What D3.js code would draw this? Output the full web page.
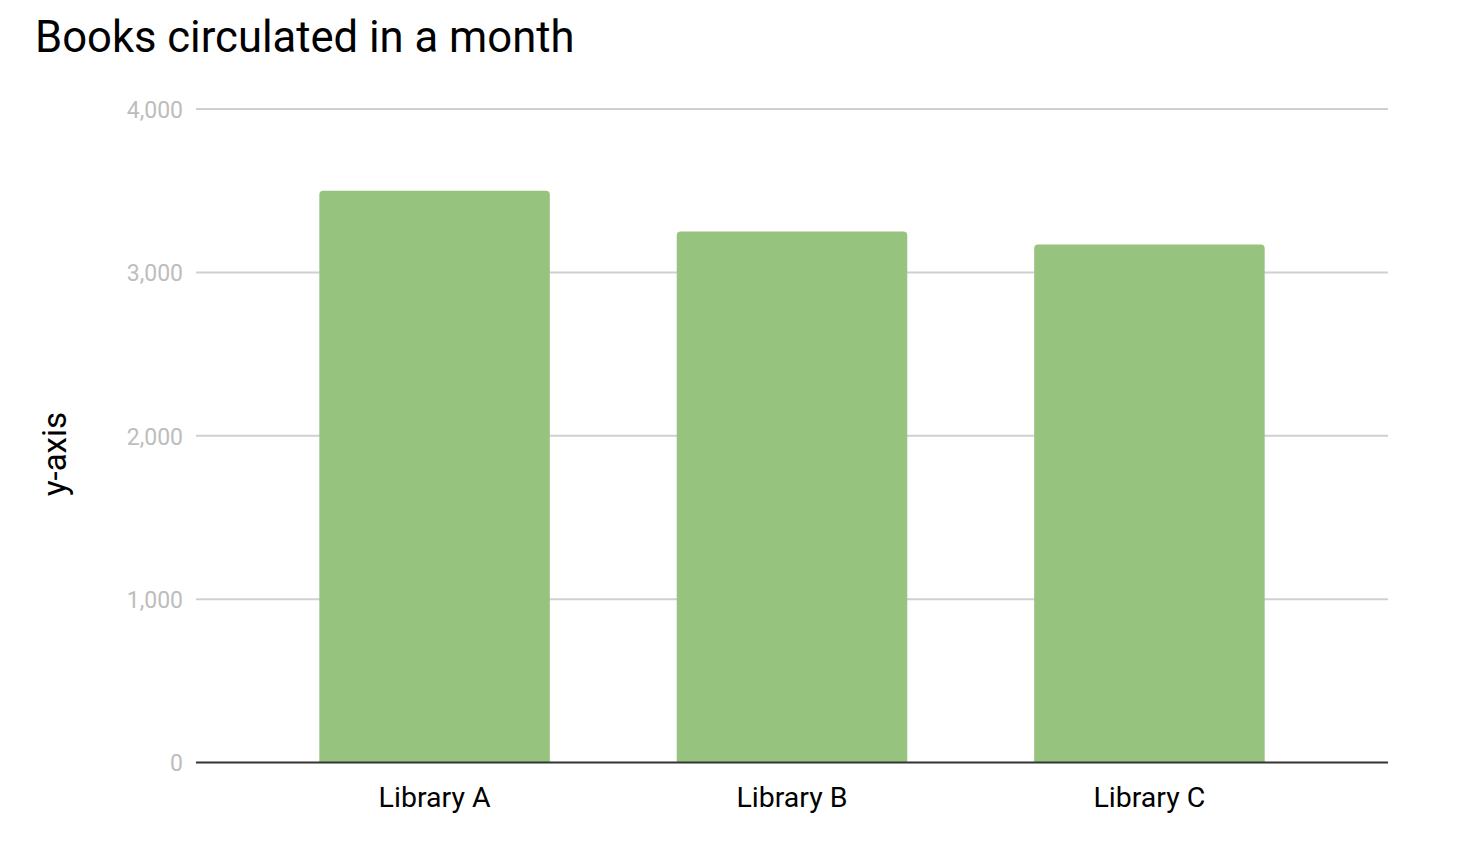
<!DOCTYPE html>
<html>
<head>
<meta charset="utf-8">
<script src="https://cdn.jsdelivr.net/npm/d3@7"></script>
<style>
  html, body { margin: 0; padding: 0; background: #fff; }
  svg { display: block; font-family: Roboto, "Noto Sans", sans-serif; }
</style>
</head>
<body>
<svg id="chart" width="1484" height="854"></svg>
<script>
const title = "Books circulated in a month";
const yAxisLabel = "y-axis";
const categories = ["Library A", "Library B", "Library C"];
const values = [3500, 3250, 3170];
const yTicks = [0, 1000, 2000, 3000, 4000];

const svg = d3.select("#chart");
const plotLeft = 196, plotRight = 1388, plotTop = 109, plotBottom = 762.5;

const x = d3.scaleBand().domain(categories).range([plotLeft, plotRight])
  .paddingInner(0.355).paddingOuter(0.345);
const y = d3.scaleLinear().domain([0, 4000]).range([plotBottom, plotTop]);

svg.append("text").attr("x", 35).attr("y", 52)
  .attr("font-size", 43.6).attr("fill", "#000").text(title);

// gridlines + tick labels
const yAxis = d3.axisLeft(y).tickValues(yTicks).tickFormat(d3.format(",")).tickSize(0).tickPadding(13);
const gy = svg.append("g").attr("transform", `translate(${plotLeft},0)`).call(yAxis);
gy.select(".domain").remove();
gy.selectAll("text").attr("font-size", 23).attr("fill", "#bdbdbd")
  .attr("font-family", "Roboto").attr("dy", "0.36em");

svg.append("g").selectAll("line").data(yTicks.filter(d => d !== 0)).join("line")
  .attr("x1", plotLeft).attr("x2", plotRight)
  .attr("y1", d => y(d)).attr("y2", d => y(d))
  .attr("stroke", "#d0d0d0").attr("stroke-width", 2);

// bars with rounded top corners
const r = 4;
svg.append("g").selectAll("path").data(values).join("path")
  .attr("fill", "#96c47f")
  .attr("d", (d, i) => {
    const x0 = x(categories[i]), w = x.bandwidth(), y0 = y(d), yb = y(0);
    return `M${x0},${yb}V${y0 + r}Q${x0},${y0} ${x0 + r},${y0}H${x0 + w - r}Q${x0 + w},${y0} ${x0 + w},${y0 + r}V${yb}Z`;
  });

// baseline
svg.append("line").attr("x1", plotLeft).attr("x2", plotRight)
  .attr("y1", y(0)).attr("y2", y(0))
  .attr("stroke", "#333").attr("stroke-width", 2);

// x labels
const xAxis = d3.axisBottom(x).tickSize(0).tickPadding(0);
const gx = svg.append("g").attr("transform", `translate(0,${y(0)})`).call(xAxis);
gx.select(".domain").remove();
gx.selectAll("text").attr("font-size", 28.5).attr("fill", "#000")
  .attr("font-family", "Roboto").attr("dy", null).attr("y", 44);

// y axis title
svg.append("text").attr("transform", "translate(66,454) rotate(-90)")
  .attr("text-anchor", "middle").attr("font-size", 33).attr("fill", "#000")
  .text(yAxisLabel);
</script>
</body>
</html>
